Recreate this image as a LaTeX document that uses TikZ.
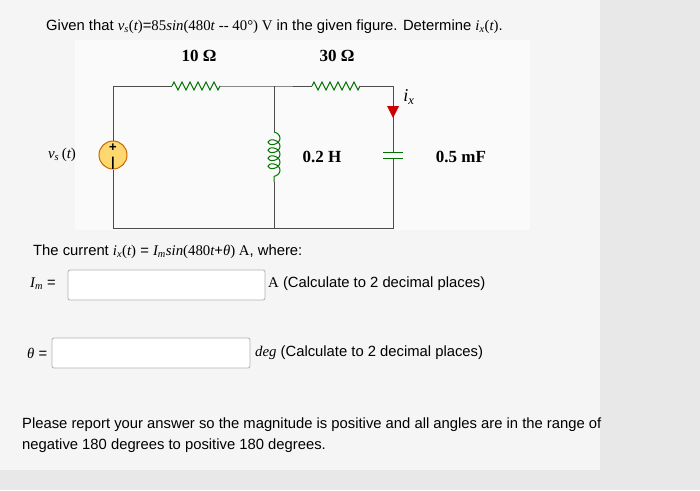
\documentclass[tikz,border=0pt]{standalone}
\usepackage{fontspec}
\setmainfont{Liberation Sans}
\newfontfamily\serifc{Liberation Serif}
\newcommand{\mi}[1]{{\serifc\itshape #1}}
\newcommand{\mr}[1]{{\serifc #1}}
\usetikzlibrary{decorations.pathmorphing,arrows.meta}
\begin{document}
\begin{tikzpicture}[x=1pt,y=-1pt,
  wire/.style={draw=black!70,line width=1pt},
  res/.style={draw=green!45!black,line width=1pt,decorate,decoration={zigzag,segment length=8pt,amplitude=4pt}},
  coil/.style={draw=green!45!black,line width=1pt,decorate,decoration={coil,aspect=0.7,segment length=8pt,amplitude=6pt}},
  lab/.style={font=\serifc\fontsize{17}{20}\selectfont\bfseries},
  txt/.style={font=\fontsize{14.8}{18}\selectfont,anchor=west,inner sep=0},
  ansbox/.style={draw=black!30,fill=white,rounded corners=2pt,line width=0.8pt}]
\useasboundingbox (0,0) rectangle (700,490);
\fill[gray!18] (0,0) rectangle (700,490);
\fill[gray!8] (0,0) rectangle (600,470);
\fill[white!96!gray] (75,40) rectangle (530,230);
\node[txt] (title) at (46,27) {Given that \mi{v}\textsubscript{\mi{s}}\mr{(}\mi{t}\mr{)}=\mr{85}\mi{sin}\mr{(480}\mi{t} \mr{-- 40°) V} in the given figure. Determine \mi{i}\textsubscript{\mi{x}}\mr{(}\mi{t}\mr{)}.};
% circuit
\coordinate (tl) at (113,86); \coordinate (bl) at (113,228);
\coordinate (tm) at (274,86); \coordinate (bm) at (274,228);
\coordinate (tr) at (393,86); \coordinate (br) at (393,228);
\coordinate (r1a) at (172,86); \coordinate (r1b) at (220,86);
\coordinate (r2a) at (312,86); \coordinate (r2b) at (360,86);
\coordinate (la) at (274,132); \coordinate (lb) at (274,182);
\coordinate (ca) at (393,152); \coordinate (cb) at (393,158);
\node[circle,draw=orange!80!black,fill=yellow!50!orange!55,line width=1pt,minimum size=28pt,inner sep=0] (src) at (113,155) {};
\node[font=\bfseries\fontsize{13}{13}\selectfont,inner sep=0] (plus) at (113,148) {+};
\node[font=\bfseries\fontsize{13}{13}\selectfont,inner sep=0] (minus) at (113,163) {|};
\draw[wire] (src.north) -- (tl) -- (r1a);
\draw[res] (r1a) -- (r1b);
\draw[wire] (r1b) -- (tm) -- (r2a);
\draw[res] (r2a) -- (r2b);
\draw[wire] (r2b) -- (tr) -- (ca);
\draw[wire] (src.south) -- (bl) -- (br) -- (cb);
\draw[wire] (tm) -- (la); \draw[wire] (lb) -- (bm);
\draw[coil] (la) -- (lb);
\draw[wire,green!45!black] (383,152) -- (403,152);
\draw[wire,green!45!black] (383,158) -- (403,158);
\fill[red!80!black] (387,106) -- (399,106) -- (393,118) -- cycle;
\node[lab] (l1) at (199,56) {10 Ω};
\node[lab] (l2) at (337,56) {30 Ω};
\node[lab] (lh) at (322,157) {0.2 H};
\node[lab] (lc) at (461,157) {0.5 mF};
\node[font=\fontsize{18}{18}\selectfont] (ix) at (409,97) {\mi{i}\textsubscript{\mi{x}}};
\node[font=\fontsize{15}{15}\selectfont] (vs) at (62,155) {\mi{v}\textsubscript{\mi{s}}\,\mr{(}\mi{t}\mr{)}};
% questions
\node[txt] (q1) at (33,252) {The current \mi{i}\textsubscript{\mi{x}}\mr{(}\mi{t}\mr{)} = \mi{I}\textsubscript{\mi{m}}\mi{sin}\mr{(480}\mi{t}+\mi{θ}\mr{) A}, where:};
\node[txt] (im) at (30,284) {\mi{I}\textsubscript{\mi{m}} =};
\draw[ansbox] (68,270) rectangle (265,300);
\node[txt] (a1) at (268,284) {\mr{A} (Calculate to 2 decimal places)};
\node[txt] (th) at (27,353) {\mi{θ} =};
\draw[ansbox] (52,338) rectangle (250,368);
\node[txt] (a2) at (255,353) {\mi{deg} (Calculate to 2 decimal places)};
\node[txt] (p1) at (22,425) {Please report your answer so the magnitude is positive and all angles are in the range of};
\node[txt] (p2) at (22,446) {negative 180 degrees to positive 180 degrees.};
\end{tikzpicture}
\end{document}
